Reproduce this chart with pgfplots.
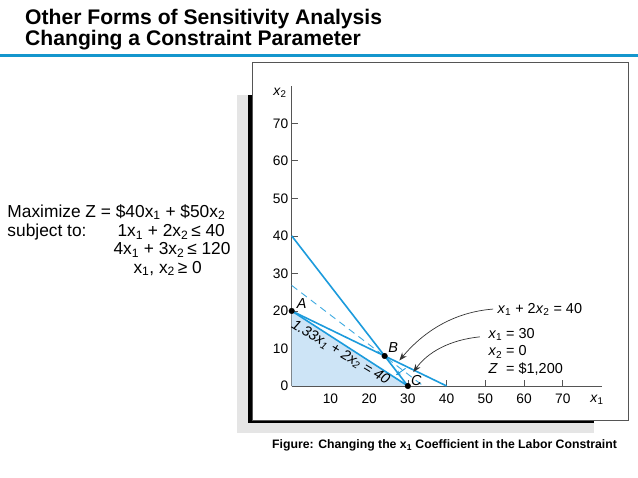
\documentclass[border=0pt]{standalone}
\usepackage{pgfplots}
\pgfplotsset{compat=1.18}
\usepackage{fontspec}
\setmainfont{Liberation Sans}
\usetikzlibrary{arrows.meta}
\definecolor{lpblue}{RGB}{28,155,220}
\definecolor{lpfill}{RGB}{205,228,246}
\definecolor{barblue}{RGB}{20,150,205}
\definecolor{axgray}{RGB}{85,85,85}
\begin{document}
\begin{tikzpicture}[x=1bp,y=1bp]
\path[use as bounding box] (0,0) rectangle (638,478);
% title
\node[anchor=base west,inner sep=0] at (25,453) {\fontsize{21.2}{25}\selectfont\bfseries Other Forms of Sensitivity Analysis};
\node[anchor=base west,inner sep=0] at (25,432) {\fontsize{21.2}{25}\selectfont\bfseries Changing a Constraint Parameter};
\fill[barblue] (0,421) rectangle (638,424);
% frame with shadow
\fill[black!10] (237,383) rectangle (594,45);
\fill[black] (248,383) rectangle (594,55);
\filldraw[fill=white,draw=axgray,line width=0.8bp] (252,416) rectangle (628,58);
% left text
\begin{scope}[every node/.style={anchor=base west,inner sep=0,font=\fontsize{17.4}{20}\selectfont}]
\node at (7.3,260.7) {Maximize Z = \$40x\textsubscript{1} + \$50x\textsubscript{2}};
\node at (7.3,241.3) {subject to:};
\node at (117.3,241.3) {1x\textsubscript{1} + 2x\textsubscript{2}\,≤ 40};
\node at (113.3,223) {4x\textsubscript{1} + 3x\textsubscript{2}\,≤ 120};
\node at (133.3,204.7) {x\textsubscript{1}, x\textsubscript{2}\,≥ 0};
\end{scope}
% caption
\node[anchor=base west,inner sep=0] at (272,29.7) {\fontsize{12.3}{14}\selectfont\bfseries Figure: Changing the x\textsubscript{1} Coefficient in the Labor Constraint};
% axis
\begin{axis}[
  at={(291.7bp,92bp)}, anchor=south west,
  scale only axis, width=309.8bp, height=300.2bp,
  xmin=0, xmax=80, ymin=0, ymax=80,
  axis lines=left,
  axis line style={-, draw=axgray, line width=0.8bp},
  tick style={draw=axgray, line width=0.7bp},
  tick align=inside, major tick length=6bp,
  xtick={10,20,...,70}, ytick={0,10,...,70},
  ticklabel style={font=\fontsize{13.8}{15}\selectfont, text=black},
  xticklabel style={yshift=-4bp},
  /pgf/number format/assume math mode=true,
  clip=false,
]
\addplot[fill=lpfill, draw=none] coordinates {(0,0) (0,20) (30,0) (0,0)};
\addplot[lpblue!85, line width=0.9bp, dash pattern=on 7bp off 5bp] coordinates {(0,26.8) (34,0)};
\addplot[lpblue, line width=1.6bp] coordinates {(0,40) (30,0)};
\addplot[lpblue, line width=1.6bp] coordinates {(0,20) (40,0)};
\addplot[lpblue, line width=1.6bp] coordinates {(0,20) (30,0)};
\addplot[only marks, mark=*, mark size=2.8bp, black] coordinates {(0,20) (24,8) (30,0)};
\draw[lpblue, line width=0.9bp, -{Stealth[length=5bp,width=4.5bp]}] (axis cs:29.4,4.7) -- (axis cs:26.9,2.9);
\draw[black!80, line width=0.7bp, -{Stealth[length=8bp,width=6bp]}] (axis cs:52.0,20.5) .. controls (axis cs:42.2,19.7) and (axis cs:34.4,14.9) .. (axis cs:27.8,6.8);
\draw[black!80, line width=0.7bp, -{Stealth[length=8bp,width=6bp]}] (axis cs:48.6,13.1) .. controls (axis cs:40.9,12.3) and (axis cs:35.2,9.1) .. (axis cs:31.4,3.7);
\node[font=\fontsize{14.5}{16}\selectfont\itshape] at (axis cs:2.6,22) {A};
\node[font=\fontsize{14.5}{16}\selectfont\itshape] at (axis cs:26.2,10.2) {B};
\node[font=\fontsize{14.5}{16}\selectfont\itshape] at (axis cs:32.2,1.4) {C};
\node[font=\fontsize{14.5}{16}\selectfont\itshape, rotate=-31, inner sep=0] at (axis cs:12.6,8.9) {1.33x\textsubscript{1} + 2x\textsubscript{2} = 40};
\end{axis}
% axis labels
\node[font=\fontsize{14}{16}\selectfont] at (280,385) {\textit{x}\textsubscript{2}};
\node[font=\fontsize{14}{16}\selectfont] at (597,78) {\textit{x}\textsubscript{1}};
% annotations
\begin{scope}[every node/.style={anchor=base west,inner sep=0,font=\fontsize{14.5}{17}\selectfont}]
\node at (497.3,164.7) {\textit{x}\textsubscript{1} + 2\textit{x}\textsubscript{2} = 40};
\node at (488.3,139.7) {\textit{x}\textsubscript{1}};
\node at (506,139.7) {= 30};
\node at (488.3,122) {\textit{x}\textsubscript{2}};
\node at (506,122) {= 0};
\node at (488.3,104.7) {\textit{Z}};
\node at (506,104.7) {= \$1,200};
\end{scope}
\end{tikzpicture}
\end{document}
